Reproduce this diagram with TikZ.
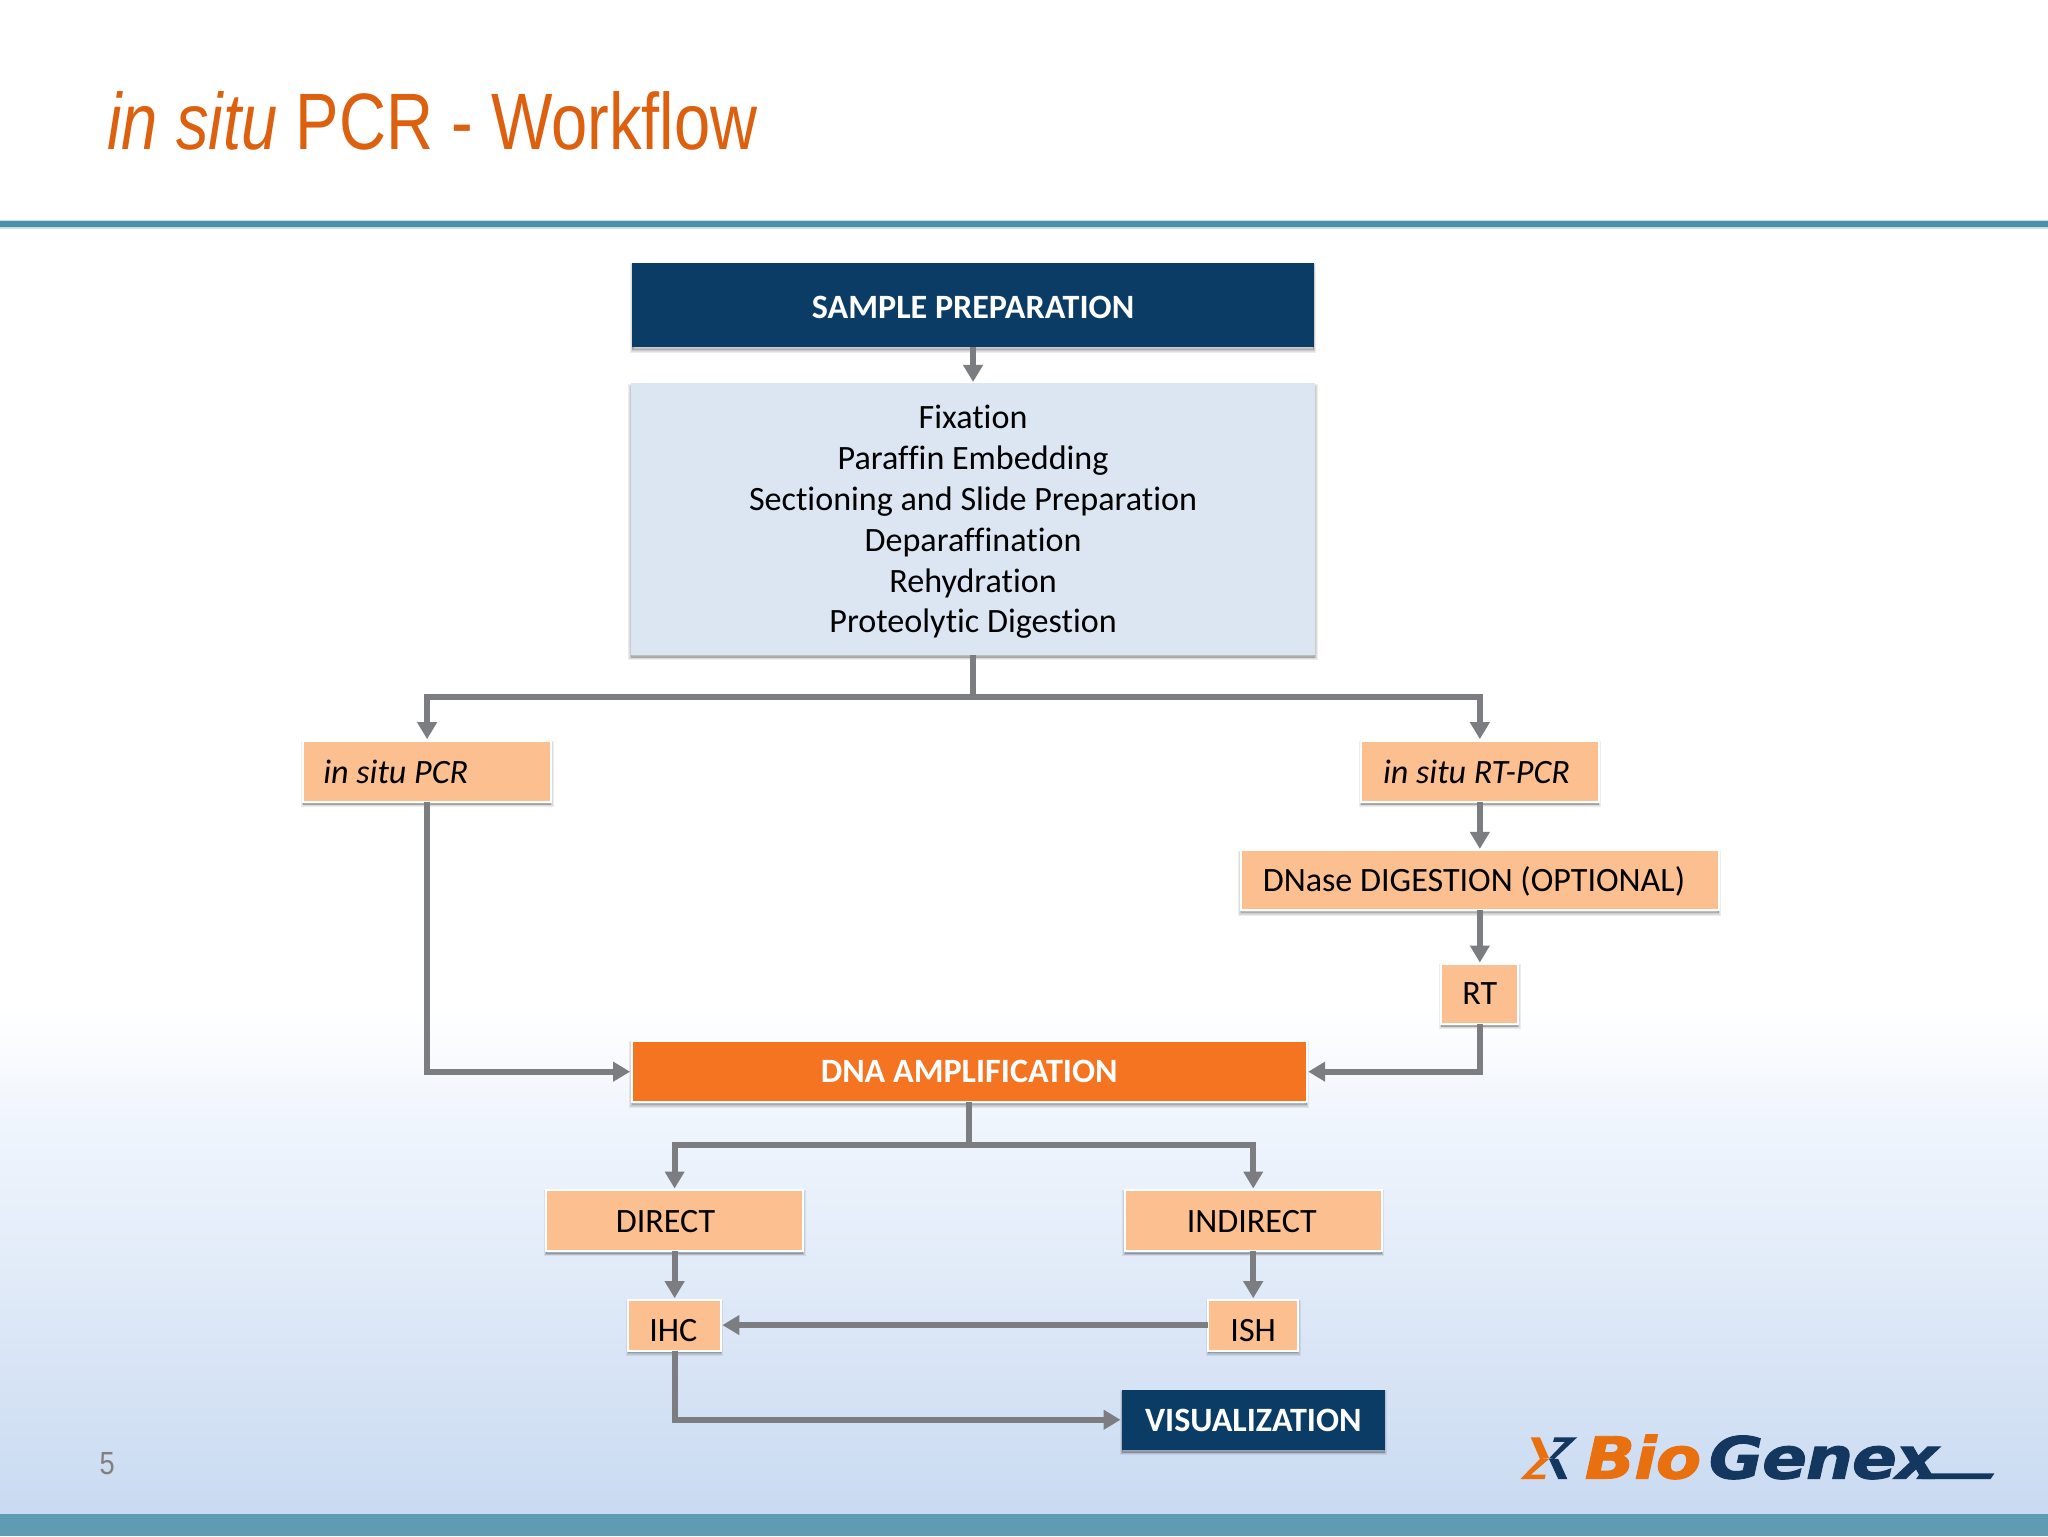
\documentclass[tikz,border=0pt]{standalone}
\usepackage{fontspec}
\setmainfont{Carlito}[Ligatures=NoCommon]
\newfontfamily\titlefont{Liberation Sans}
\newfontfamily\logofont{DejaVu Sans}[BoldItalicFeatures={FakeBold=1.6},LetterSpace=-1.5]
\usetikzlibrary{arrows.meta,shadows,positioning}
\definecolor{navy}{HTML}{0B3C65}
\definecolor{paleblue}{HTML}{DCE6F2}
\definecolor{peach}{HTML}{FCBF8F}
\definecolor{ampor}{HTML}{F47421}
\definecolor{titleor}{HTML}{DD600F}
\definecolor{conn}{HTML}{7B7D80}
\definecolor{teal}{HTML}{4A90A8}
\definecolor{band}{HTML}{5F9BB3}
\definecolor{bgmid}{HTML}{F1F6FD}
\definecolor{bgend}{HTML}{C9DAF1}
\definecolor{logonavy}{HTML}{14375F}
\definecolor{logoor}{HTML}{E8700F}
\def\un{0.65306pt}
\newcommand{\lbl}[2]{\raisebox{-#1}[0pt][0pt]{#2}}
\tikzset{
  softshade/.style={preaction={draw=black,fill=black,draw opacity=.07,fill opacity=.07,line width=#1,transform canvas={yshift=-1.4pt}}},
  shad/.style={softshade=2.4pt,softshade=1.4pt,softshade=0.6pt},
  navybox/.style={rectangle,fill=navy,text=white,outer sep=0pt,inner sep=0pt,shad,font=\fontsize{17.05}{20}\selectfont\bfseries},
  palebox/.style={rectangle,fill=paleblue,outer sep=0pt,inner sep=0pt,shad,font=\fontsize{17.05}{20.45}\selectfont},
  peachbox/.style={rectangle,fill=peach,draw=white,line width=1pt,outer sep=0pt,inner sep=0pt,shad,font=\fontsize{17.05}{20}\selectfont},
  ampbox/.style={rectangle,fill=ampor,draw=white,line width=1pt,text=white,outer sep=0pt,inner sep=0pt,shad,font=\fontsize{17.05}{20}\selectfont\bfseries},
  link/.style={draw=conn,line width=3pt},
  arrow/.style={link,-{Triangle[width=14.5*\un,length=13*\un]},shorten >=0.7pt},
}
\begin{document}
\begin{tikzpicture}[x=\un,y=-\un]
\useasboundingbox (0,0) rectangle (1568,1176);
% background
\fill[white] (0,0) rectangle (1568,1176);
\shade[top color=white,bottom color=bgmid] (0,770) rectangle (1568,850);
\shade[top color=bgmid,bottom color=bgend] (0,850) rectangle (1568,1160);
\fill[band] (0,1159) rectangle (1568,1176);
\fill[teal!30!white] (0,168.5) rectangle (1568,175.5);
\fill[teal] (0,169.5) rectangle (1568,174);
% title
\node[anchor=base west,inner sep=0pt,text=titleor] (title) at (82,114.7)
  {\scalebox{0.814}[1]{\titlefont\fontsize{40}{48}\selectfont\textit{in situ} PCR - Workflow}};
% boxes
\node[navybox,minimum width=522*\un,minimum height=65*\un] (sample) at (745,233.5) {\lbl{6.6pt}{SAMPLE PREPARATION}};
\node[palebox,minimum width=524*\un,minimum height=208*\un] (fix) at (745,397.5)
  {\lbl{6pt}{\begin{tabular}{@{}c@{}}Fixation\\Paraffin Embedding\\Sectioning and Slide Preparation\\Deparaffination\\Rehydration\\Proteolytic Digestion\end{tabular}}};
\node[peachbox,minimum width=190*\un,minimum height=47*\un] (pcr) at (327,590.5) {\hspace*{-31.3pt}\lbl{6pt}{\textit{in situ PCR}}};
\node[peachbox,minimum width=182*\un,minimum height=47*\un] (rtpcr) at (1133,590.5) {\hspace*{-3.3pt}\lbl{6pt}{\textit{in situ RT-PCR}}};
\node[peachbox,minimum width=366*\un,minimum height=46*\un] (dnase) at (1133,674) {\hspace*{-5.9pt}\lbl{5.8pt}{DNase DIGESTION (OPTIONAL)}};
\node[peachbox,minimum width=59*\un,minimum height=46*\un] (rt) at (1133,761) {\lbl{5.5pt}{RT}};
\node[ampbox,minimum width=517*\un,minimum height=47*\un] (amp) at (742,820.5) {\lbl{5.5pt}{DNA AMPLIFICATION}};
\node[peachbox,minimum width=197*\un,minimum height=47*\un] (direct) at (516.5,934.5) {\hspace*{-9.1pt}\lbl{5.8pt}{DIRECT}};
\node[peachbox,minimum width=197*\un,minimum height=47*\un] (indirect) at (959.5,934.5) {\hspace*{-1.5pt}\lbl{5.8pt}{INDIRECT}};
\node[peachbox,minimum width=71*\un,minimum height=39*\un] (ihc) at (516.5,1014.5) {\hspace*{-1.3pt}\lbl{8.1pt}{IHC}};
\node[peachbox,minimum width=69*\un,minimum height=39*\un] (ish) at (959.5,1014.5) {\lbl{8.1pt}{ISH}};
\node[navybox,minimum width=201*\un,minimum height=46*\un] (vis) at (959.5,1087) {\lbl{6pt}{VISUALIZATION}};
% junctions
\coordinate (j1) at (745,534);
\coordinate (j2) at (742,877);
% connectors
\draw[arrow] (sample.south) -- (fix.north);
\draw[link] (fix.south) -- (j1);
\draw[arrow] (j1) -| (pcr.north);
\draw[arrow] (j1) -| (rtpcr.north);
\draw[arrow] (rtpcr.south) -- (dnase.north);
\draw[arrow] (dnase.south) -- (rt.north);
\draw[arrow] (pcr.south) |- (amp.west);
\draw[arrow] (rt.south) |- (amp.east);
\draw[link] (amp.south) -- (j2);
\draw[arrow] (j2) -| (direct.north);
\draw[arrow] (j2) -| (indirect.north);
\draw[arrow] (direct.south) -- (ihc.north);
\draw[arrow] (indirect.south) -- (ish.north);
\draw[arrow] (ish.west) -- (ihc.east);
\draw[arrow] (ihc.south) |- (vis.west);
% page number
\node[anchor=base,inner sep=0pt,text=black!50] (page) at (82,1129)
  {\scalebox{0.85}[1]{\titlefont\fontsize{16}{20}\selectfont 5}};
% logo
\fill[logoor] (1172,1100.5) -- (1179,1100.5) -- (1186,1116.5) -- (1179,1117) -- cycle;
\fill[logoor] (1186,1117) -- (1179,1117) -- (1164,1132.4) -- (1182.6,1132.4) -- (1183.4,1129) -- (1172,1129) -- cycle;
\fill[logonavy] (1190,1100.5) -- (1207.5,1100.5) -- (1190,1117) -- (1186,1116.5) -- (1198,1104) -- (1189,1104) -- cycle;
\fill[logonavy] (1186,1117) -- (1193,1117) -- (1200,1132.4) -- (1193,1132.4) -- cycle;
\node[anchor=base west,inner sep=0pt,text=logoor] (bio) at (1213,1132)
  {\scalebox{1.14}[1]{\logofont\fontsize{29}{32}\selectfont\bfseries\itshape Bio}};
\node[anchor=base west,inner sep=0pt,text=logonavy] (genex) at (1308,1132)
  {\scalebox{1.14}[1]{\logofont\fontsize{29}{32}\selectfont\bfseries\itshape Genex}};
\fill[logonavy] (1470,1128) -- (1527,1128) -- (1524,1132.4) -- (1467,1132.4) -- cycle;
\end{tikzpicture}
\end{document}
